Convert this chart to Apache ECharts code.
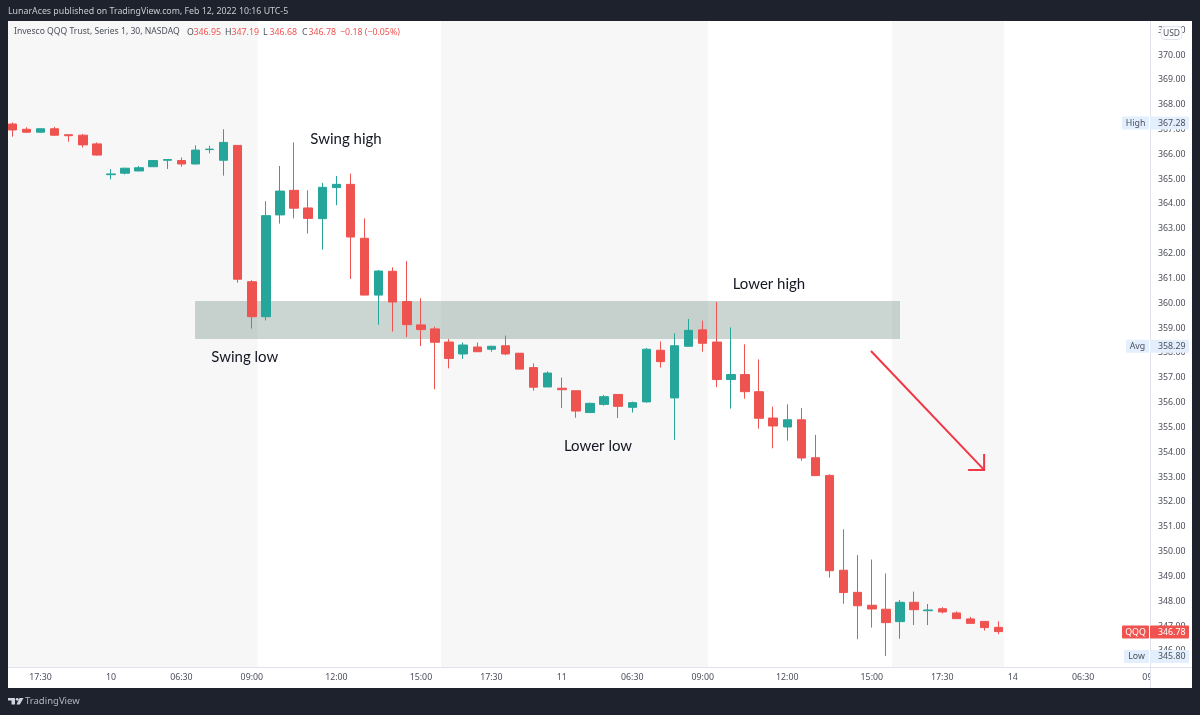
<!DOCTYPE html>
<html>
<head>
<meta charset="utf-8">
<script src="https://cdn.jsdelivr.net/npm/echarts@6/dist/echarts.min.js"></script>
<style>
html, body { margin: 0; padding: 0; background: #1e222d; }
#panel { position: absolute; left: 8px; top: 21px; width: 1184px; height: 667px; background: #fff; }
#chart { position: absolute; left: 0; top: 0; width: 1200px; height: 715px; }
</style>
</head>
<body>
<div id="panel"></div>
<div id="chart"></div>
<script>
var barLabels = [
    '', '', '17:30', '', '', '', '', '10', '', '',
    '', '', '06:30', '', '', '', '', '09:00', '', '',
    '', '', '', '12:00', '', '', '', '', '', '15:00',
    '', '', '', '', '17:30', '', '', '', '', '11',
    '', '', '', '', '06:30', '', '', '', '', '09:00',
    '', '', '', '', '', '12:00', '', '', '', '',
    '', '15:00', '', '', '', '', '17:30', '', '', '',
    '', '14', '', '', '', '', '06:30', '', '', '',
    '', '09:00'
];
var opens = [
    367.22, 367.01, 366.89, 367.03, 366.79, 366.77, 366.42, 365.18, 365.24, 365.33,
    365.50, 365.76, 365.75, 365.61, 366.19, 365.76, 366.36, 360.87, 359.46, 363.56,
    364.55, 363.84, 363.41, 364.66, 364.79, 362.62, 360.33, 361.29, 360.07, 359.13,
    358.97, 358.44, 357.96, 358.24, 358.15, 358.29, 357.99, 357.41, 356.63, 356.58,
    356.48, 355.60, 355.93, 356.33, 355.81, 356.03, 358.11, 356.19, 358.27, 358.93,
    358.44, 356.93, 357.13, 356.44, 355.38, 355.02, 355.31, 353.78, 353.07, 349.25,
    348.36, 347.84, 347.68, 347.18, 347.96, 347.62, 347.70, 347.53, 347.29, 347.19,
    346.95
];
var closes = [
    366.98, 366.89, 367.03, 366.77, 366.75, 366.38, 365.97, 365.21, 365.44, 365.46,
    365.75, 365.79, 365.61, 366.17, 366.21, 366.48, 360.97, 359.46, 363.53, 364.52,
    363.83, 363.42, 364.67, 364.79, 362.67, 360.33, 361.30, 360.05, 359.14, 358.94,
    358.43, 357.78, 358.32, 358.05, 358.27, 357.96, 357.35, 356.62, 357.19, 356.52,
    355.66, 355.97, 356.24, 355.85, 356.00, 358.15, 357.65, 358.29, 358.91, 358.39,
    356.93, 357.13, 356.44, 355.37, 355.06, 355.31, 353.77, 353.06, 349.23, 348.35,
    347.82, 347.69, 347.14, 347.96, 347.66, 347.65, 347.57, 347.30, 347.11, 346.94,
    346.78
];
var lows = [
    366.71, 366.87, 366.87, 366.74, 366.51, 366.27, 365.95, 364.99, 365.19, 365.32,
    365.50, 365.41, 365.50, 365.60, 366.04, 365.14, 360.83, 358.98, 359.31, 363.21,
    363.42, 362.81, 362.16, 363.95, 360.98, 360.33, 359.14, 358.86, 358.64, 358.28,
    356.54, 357.38, 357.76, 358.05, 358.05, 357.91, 357.35, 356.48, 356.63, 355.78,
    355.39, 355.60, 355.88, 355.38, 355.60, 356.00, 357.41, 354.50, 358.27, 358.05,
    356.62, 355.76, 356.16, 354.95, 354.16, 354.47, 353.66, 353.06, 348.95, 347.90,
    346.47, 346.94, 345.80, 346.49, 347.04, 347.04, 347.51, 347.30, 347.10, 346.82,
    346.68
];
var highs = [
    367.28, 367.09, 367.03, 367.11, 366.79, 366.82, 366.48, 365.40, 365.46, 365.53,
    365.77, 365.79, 365.87, 366.36, 366.34, 367.01, 366.36, 360.93, 364.11, 365.53,
    366.48, 364.55, 364.85, 365.13, 365.22, 363.42, 361.34, 361.45, 361.70, 360.20,
    359.06, 358.56, 358.42, 358.42, 358.29, 358.70, 357.99, 357.58, 357.26, 357.01,
    356.48, 356.00, 356.31, 356.33, 356.04, 358.20, 358.46, 358.79, 359.37, 359.30,
    360.05, 359.03, 358.35, 357.74, 355.84, 355.93, 355.78, 354.70, 353.11, 350.90,
    349.86, 349.68, 349.12, 348.05, 348.39, 347.89, 347.76, 347.59, 347.37, 347.19,
    347.19
];
var priceTicks = [346, 347, 348, 349, 350, 351, 352, 353, 354, 355, 356, 357, 358, 359,
    360, 361, 362, 363, 364, 365, 366, 367, 368, 369, 370, 371];
var sessionStarts = [0, 30.93, 62.94];
var sessionEnds = [17.9, 49.87, 70.89];
var zoneStart = [13.47, 360.09];
var zoneEnd = [63.5, 358.56];
var arrowStart = [61.44, 358.08];
var arrowEnd = [69.47, 353.29];
var noteTexts = ['Swing high', 'Swing low', 'Lower high', 'Lower low'];
var noteBars = [24.18, 17.0, 54.2, 42.07];
var notePrices = [366.62, 357.84, 360.78, 354.25];
var tagNames = ['High', 'Avg', 'QQQ', 'Low'];
var tagPrices = [367.28, 358.29, 346.78, 345.80];
var legendKeys = ['O', 'H', 'L', 'C'];
var legendValues = ['346.95', '347.19', '346.68', '346.78'];
var legendChange = '\u22120.18 (\u22120.05%)';

var FONT = '"Noto Sans", sans-serif';
var SMALL = 8.8;
var priceMin = 345.353;
var priceMax = 371.369;
var RED = '#ef5350';
var GREEN = '#26a69a';
var TEXT = '#4c4f5a';

function renderBand(params, api) {
    var a = api.coord([api.value(0), priceMax]);
    var b = api.coord([api.value(1), priceMin]);
    return {
        type: 'rect',
        shape: { x: a[0], y: a[1], width: b[0] - a[0], height: b[1] - a[1] },
        style: { fill: '#f7f7f7' }
    };
}

function renderZone(params, api) {
    var a = api.coord([api.value(0), api.value(1)]);
    var b = api.coord([api.value(2), api.value(3)]);
    return {
        type: 'rect',
        shape: { x: a[0], y: a[1], width: b[0] - a[0], height: b[1] - a[1] },
        style: { fill: 'rgba(124,150,140,0.4)' }
    };
}

function renderArrow(params, api) {
    var a = api.coord([api.value(0), api.value(1)]);
    var b = api.coord([api.value(2), api.value(3)]);
    var line = { stroke: '#f23645', lineWidth: 2, fill: null };
    return {
        type: 'group',
        children: [
            { type: 'line', shape: { x1: a[0], y1: a[1], x2: b[0], y2: b[1] }, style: line },
            { type: 'polyline', shape: { points: [[b[0] - 16, b[1]], [b[0], b[1]], [b[0], b[1] - 16]] }, style: line }
        ]
    };
}

function renderNote(params, api) {
    var p = api.coord([api.value(0), api.value(1)]);
    return {
        type: 'text',
        style: {
            x: p[0], y: p[1], text: noteTexts[params.dataIndex], fill: '#131722',
            font: '15px Lato, sans-serif', align: 'center', verticalAlign: 'middle'
        }
    };
}

function renderTag(params, api) {
    var y = api.coord([0, api.value(0)])[1];
    var name = tagNames[params.dataIndex];
    var isLast = name === 'QQQ';
    var back = isLast ? RED : '#e3effd';
    var fore = isLast ? '#fff' : TEXT;
    var labelWidth = { High: 27, Avg: 23, QQQ: 27, Low: 25 }[name];
    var font = SMALL + 'px ' + FONT;
    return {
        type: 'group',
        children: [
            { type: 'rect', shape: { x: 1149 - labelWidth, y: y - 6, width: labelWidth, height: 13, r: 1 }, style: { fill: back } },
            { type: 'rect', shape: { x: 1150, y: y - 6, width: 39, height: 13, r: 1 }, style: { fill: back } },
            { type: 'text', style: { x: 1149 - labelWidth / 2, y: y + 0.8, text: name, fill: fore, font: font, align: 'center', verticalAlign: 'middle' } },
            { type: 'text', style: { x: 1158, y: y + 0.8, text: api.value(0).toFixed(2), fill: fore, font: font, align: 'left', verticalAlign: 'middle' } }
        ]
    };
}

function buildGraphics() {
    var small = SMALL + 'px ' + FONT;
    var keyX = [187, 225, 263, 302];
    var items = [
        { type: 'rect', z: 100, shape: { x: 0, y: 21, width: 8, height: 667 }, style: { fill: '#1e222d' } },
        { type: 'rect', z: 5, shape: { x: 1151, y: 668, width: 41, height: 20 }, style: { fill: '#fff' } },
        { type: 'line', z: 6, shape: { x1: 8, y1: 667.5, x2: 1192, y2: 667.5 }, style: { stroke: '#e0e3eb', lineWidth: 1 } },
        { type: 'line', z: 6, shape: { x1: 1150.5, y1: 21, x2: 1150.5, y2: 688 }, style: { stroke: '#e0e3eb', lineWidth: 1 } },
        { type: 'text', z: 20, x: 8, y: 11, style: { text: 'LunarAces published on TradingView.com, Feb 12, 2022 10:16 UTC-5', fill: '#c8cad0', font: small, verticalAlign: 'middle' } },
        { type: 'text', z: 20, x: 14, y: 32, style: { text: 'Invesco QQQ Trust, Series 1, 30, NASDAQ', fill: TEXT, font: '8.6px ' + FONT, verticalAlign: 'middle' } },
        { type: 'text', z: 20, x: 340, y: 32, style: { text: legendChange, fill: RED, font: small, verticalAlign: 'middle' } },
        { type: 'rect', z: 20, shape: { x: 1161, y: 26.5, width: 21, height: 13, r: 4 }, style: { fill: '#fff', stroke: '#e0e3eb', lineWidth: 1 } },
        { type: 'text', z: 21, x: 1171.5, y: 33.5, style: { text: 'USD', fill: TEXT, font: '8.5px ' + FONT, align: 'center', verticalAlign: 'middle' } },
        { type: 'rect', z: 20, shape: { x: 8, y: 698, width: 7, height: 2.5 }, style: { fill: '#d1d4dc' } },
        { type: 'rect', z: 20, shape: { x: 11.5, y: 698, width: 3.5, height: 6.5 }, style: { fill: '#d1d4dc' } },
        { type: 'circle', z: 20, shape: { cx: 17.2, cy: 699.3, r: 1.4 }, style: { fill: '#d1d4dc' } },
        { type: 'polygon', z: 20, shape: { points: [[19.5, 698], [23.5, 698], [19.8, 704.5], [16.5, 704.5]] }, style: { fill: '#d1d4dc' } },
        { type: 'text', z: 20, x: 25, y: 701.5, style: { text: 'TradingView', fill: '#b2b5be', font: '9.5px ' + FONT, verticalAlign: 'middle' } }
    ];
    for (var i = 0; i < legendKeys.length; i++) {
        items.push({ type: 'text', z: 20, x: keyX[i], y: 32, style: { text: legendKeys[i], fill: TEXT, font: small, verticalAlign: 'middle' } });
        items.push({ type: 'text', z: 20, x: keyX[i] + 6.5, y: 32, style: { text: legendValues[i], fill: RED, font: small, verticalAlign: 'middle' } });
    }
    return items;
}

var candles = [];
for (var i = 0; i < opens.length; i++) {
    candles.push([opens[i], closes[i], lows[i], highs[i]]);
}
var bands = sessionStarts.map(function (start, i) { return [start, sessionEnds[i]]; });
var notes = noteBars.map(function (bar, i) { return [bar, notePrices[i]]; });
var tags = tagPrices.map(function (price) { return [price]; });

var chart = echarts.init(document.getElementById('chart'), null, { renderer: 'canvas' });
chart.setOption({
    animation: false,
    backgroundColor: 'transparent',
    grid: { left: 5.26, right: 39.34, top: 21, bottom: 48 },
    xAxis: [{
        type: 'category',
        data: barLabels,
        z: 2,
        axisLine: { show: false },
        axisTick: { show: false },
        splitLine: { show: false },
        axisLabel: { interval: 0, margin: 6, color: TEXT, fontSize: SMALL, fontFamily: FONT }
    }, {
        type: 'value',
        min: 0,
        max: 82,
        show: false,
        splitLine: { show: false }
    }],
    yAxis: {
        type: 'value',
        position: 'right',
        offset: -10.66,
        min: priceMin,
        max: priceMax,
        z: 10,
        axisLine: { show: false },
        axisTick: { show: false },
        splitLine: { show: false },
        axisLabel: {
            customValues: priceTicks,
            margin: 8,
            padding: [2, 0, 0, 0],
            color: TEXT,
            fontSize: SMALL,
            fontFamily: FONT,
            formatter: function (value) { return value.toFixed(2); }
        }
    },
    graphic: buildGraphics(),
    series: [{
        type: 'custom',
        xAxisIndex: 1,
        z: 1,
        silent: true,
        clip: false,
        renderItem: renderBand,
        encode: { x: [0, 1] },
        data: bands
    }, {
        type: 'custom',
        xAxisIndex: 1,
        z: 1.5,
        silent: true,
        clip: false,
        renderItem: renderZone,
        encode: { x: [0, 2], y: [1, 3] },
        data: [[zoneStart[0], zoneStart[1], zoneEnd[0], zoneEnd[1]]]
    }, {
        type: 'candlestick',
        z: 2,
        barWidth: 9,
        clip: false,
        itemStyle: { color: GREEN, color0: RED, borderColor: GREEN, borderColor0: RED, borderWidth: 1 },
        data: candles
    }, {
        type: 'custom',
        xAxisIndex: 1,
        z: 3,
        silent: true,
        clip: false,
        renderItem: renderArrow,
        encode: { x: [0, 2], y: [1, 3] },
        data: [[arrowStart[0], arrowStart[1], arrowEnd[0], arrowEnd[1]]]
    }, {
        type: 'custom',
        xAxisIndex: 1,
        z: 4,
        silent: true,
        clip: false,
        renderItem: renderNote,
        encode: { x: 0, y: 1 },
        data: notes
    }, {
        type: 'custom',
        xAxisIndex: 1,
        z: 12,
        silent: true,
        clip: false,
        renderItem: renderTag,
        encode: { y: 0 },
        data: tags
    }]
});
</script>
</body>
</html>
